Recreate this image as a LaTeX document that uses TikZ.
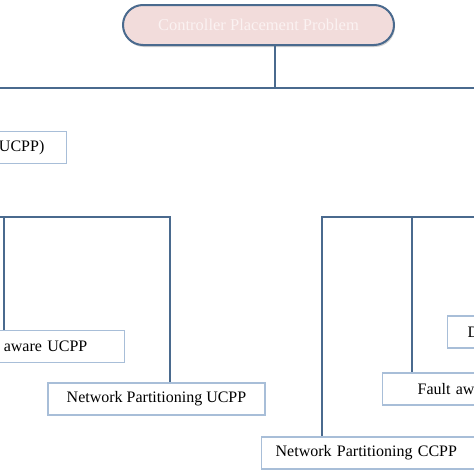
\documentclass[tikz,border=0pt]{standalone}
\usepackage{fontspec}
\setmainfont{Liberation Serif}
\usetikzlibrary{shadows}
\definecolor{linkblue}{RGB}{74,106,142}
\definecolor{boxblue}{RGB}{168,190,216}
\definecolor{capsule}{RGB}{242,220,219}
\definecolor{capsuletext}{RGB}{251,242,242}
\tikzset{
  box/.style={draw=boxblue,line width=1.3pt,fill=white,minimum height=32pt,inner ysep=0pt,font=\fontsize{16}{18}\selectfont},
  link/.style={draw=linkblue,line width=2pt},
}

\begin{document}
\begin{tikzpicture}[x=1pt,y=-1pt]
\useasboundingbox[fill=white](0,0) rectangle (474,474);
\clip(0,0) rectangle (474,474);

\node[draw=linkblue,line width=2pt,fill=capsule,rounded corners=20pt,minimum width=271pt,minimum height=40pt,text=capsuletext,font=\fontsize{16.5}{18}\selectfont,drop shadow={shadow xshift=1pt,shadow yshift=-2pt,opacity=0.35}](cpp) at (258.5,25){Controller Placement Problem};

\node[box,anchor=east,text width=80pt,align=right,inner xsep=22pt](ucpp) at (67,147.5){(UCPP)};
\node[box,anchor=east,text width=100pt,align=right,inner xsep=37pt](aware) at (125,346.5){aware UCPP};
\node[box,minimum width=217pt](npu) at (156.5,399){Network Partitioning UCPP};

\node[box,anchor=west,text width=60pt,align=left,inner xsep=20pt](dnode) at (447,332){D};
\node[box,anchor=west,text width=100pt,align=left,inner xsep=35pt](fault) at (382,389){Fault aw};
\node[box,anchor=west,text width=200pt,align=left,inner xsep=14pt](npc) at (261,453){Network Partitioning CCPP};

\coordinate(stem) at (275,88);
\coordinate(busW) at (-10,88);
\coordinate(busE) at (484,88);
\draw[link](stem |- cpp.south)--(stem);
\draw[link](busW)--(busE);

\coordinate(lbusW) at (-10,217);
\coordinate(ldrop) at (4,217);
\coordinate(lturn) at (170,217);
\draw[link](lbusW)--(lturn)--(lturn |- npu.north);
\draw[link](ldrop)--(ldrop |- aware.north);

\coordinate(rturn) at (322,217);
\coordinate(rdrop) at (412,217);
\coordinate(rbusE) at (484,217);
\draw[link](rbusE)--(rturn)--(rturn |- npc.north);
\draw[link](rdrop)--(rdrop |- fault.north);
\end{tikzpicture}
\end{document}
